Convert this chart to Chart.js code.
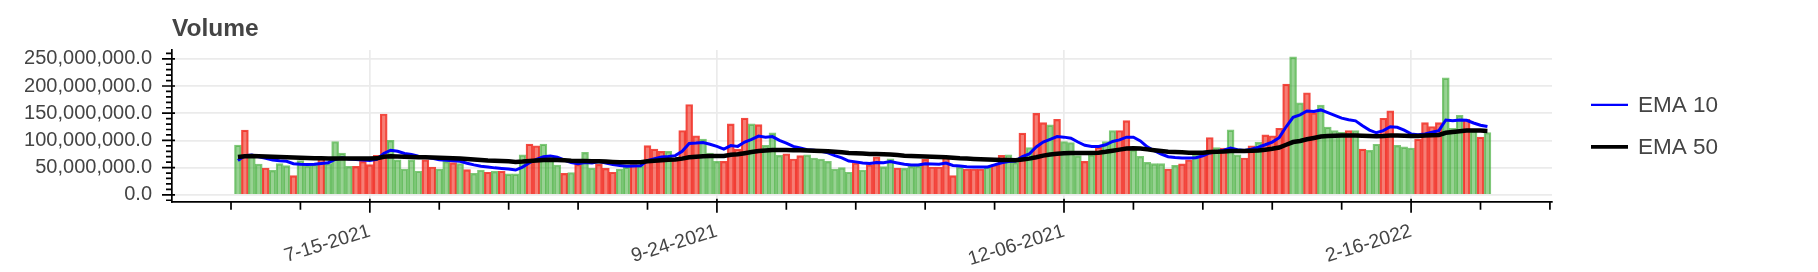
<!DOCTYPE html>
<html>
<head>
<meta charset="utf-8">
<script src="https://cdn.jsdelivr.net/npm/chart.js@4.4.1/dist/chart.umd.min.js"></script>
<style>
  html, body { margin: 0; padding: 0; background: #fff; }
  #wrap { width: 1818px; height: 272px; }
</style>
</head>
<body>
<div id="wrap"><canvas id="graficoVolumen" width="1818" height="272"></canvas></div>
<script>
// daily volume, in millions of shares (one bar per trading day)
const volumeM = [
  91.3, 118.8, 73, 56.6, 49.3, 45, 57.2, 53.6, 35.3, 63,
  53.6, 56, 68.6, 57.5, 98, 76.7, 52.3, 52.3, 61.5, 55.4,
  72.5, 148.6, 99.9, 64.5, 47.5, 64.5, 43.2, 64.5, 51.1, 47.5,
  61.5, 59, 57.5, 46.3, 39.5, 45.5, 41.4, 43, 43.2, 38.5,
  38.5, 73.7, 93.2, 90.1, 93.2, 71.8, 54.8, 39.5, 41, 56,
  78, 49.3, 56, 48.5, 41.4, 47.5, 51, 55.4, 53.6, 90.4,
  84, 79.8, 79.8, 65.8, 118.2, 166, 108.5, 102.4, 76.7, 61.5,
  61.5, 130.4, 84, 141, 130.4, 129, 91, 113.8, 72.5, 75.5,
  65.8, 71.9, 73.7, 67.6, 65.8, 61.5, 47.5, 50, 41.4, 58.4,
  45.5, 55.4, 70, 51.7, 66, 49.3, 48.5, 52.3, 53.6, 65,
  51.1, 51.1, 69.4, 35.3, 51.1, 47.5, 47.5, 47.5, 51.1, 55.4,
  72.5, 73.7, 59.7, 113.3, 87, 149.8, 132.7, 128.4, 138.8, 98,
  96.2, 71.9, 61.5, 73.7, 87.7, 98, 118.2, 118.2, 136.5, 82.8,
  70.6, 59.7, 57.2, 57.2, 47.5, 54.2, 56.7, 64.5, 73.7, 73.7,
  105.4, 87, 85.8, 119.4, 73.7, 67.6, 90.1, 96.3, 110.3, 108.5,
  122.4, 203.5, 253.5, 169.3, 187.6, 151, 165, 124.3, 118.2, 115,
  118.2, 118.2, 84, 81.6, 93, 140.7, 154.5, 91, 88, 86,
  102.3, 132.8, 125.5, 132.8, 215, 122.4, 146, 138.9, 118, 106,
  114.5
];

// 1 = close above open (green), 0 = close below open (red)
const upDay = [
  1, 0, 1, 1, 0, 1, 1, 1, 0, 1,
  1, 1, 0, 1, 1, 1, 1, 0, 0, 0,
  0, 0, 1, 1, 1, 1, 1, 0, 0, 1,
  1, 0, 1, 0, 1, 1, 0, 1, 0, 1,
  1, 1, 0, 0, 1, 1, 1, 0, 1, 0,
  1, 1, 0, 0, 0, 1, 1, 0, 1, 0,
  0, 0, 1, 0, 0, 0, 0, 1, 1, 1,
  0, 0, 0, 0, 1, 0, 1, 1, 1, 0,
  0, 0, 1, 1, 1, 1, 1, 1, 1, 0,
  1, 0, 0, 1, 1, 0, 1, 1, 1, 0,
  0, 0, 0, 0, 1, 0, 0, 0, 1, 0,
  0, 1, 1, 0, 1, 0, 0, 1, 0, 1,
  1, 1, 0, 1, 0, 1, 1, 0, 0, 1,
  1, 1, 1, 1, 0, 1, 0, 0, 1, 0,
  0, 1, 0, 1, 1, 0, 0, 1, 0, 0,
  0, 0, 1, 1, 0, 0, 1, 1, 1, 1,
  0, 1, 0, 1, 1, 0, 0, 1, 1, 1,
  0, 0, 0, 0, 1, 1, 1, 0, 1, 0,
  1
];

const ema10M = [
  63, 72, 73, 70, 67, 64, 62.5, 61.5, 57, 56,
  55.5, 56, 57.5, 59, 65, 68, 66, 65, 64, 63,
  65, 76, 82, 80, 76, 74, 71, 69.5, 67, 64.5,
  63.5, 62.5, 61.5, 58, 55, 52.5, 51, 49.5, 48.5, 47.5,
  45.5, 51, 59, 65, 70, 71.5, 69, 64, 59.5, 57,
  59.5, 58.5, 61, 58.5, 55.5, 54, 52.5, 53, 53.5, 63,
  66.5, 69.5, 70.5, 72, 80, 94.5, 95, 96, 93, 89,
  84, 90.5, 89, 97, 102, 108, 106, 107, 100, 95,
  89, 86, 83, 82, 80, 77, 72, 68, 62, 60.5,
  58.5, 57.5, 59.5, 59, 61, 58.5, 56, 55, 55, 57,
  56.5, 56, 58.5, 54, 53, 51.5, 51, 51, 51, 55,
  59, 61, 62, 70, 75, 88, 97, 102, 107, 106,
  104, 97, 91, 89, 89, 92, 98, 101, 106, 106,
  99, 88, 81, 75, 70, 68.5, 67.5, 67.5, 68, 71.5,
  77, 79, 82, 86, 83, 81.5, 84, 87.5, 92, 97,
  105, 125, 142.5, 147, 154, 153, 156, 151, 146, 141,
  138, 136, 127, 119, 114, 118, 125, 124, 119, 112,
  110.5, 112, 115, 118, 137.5, 136, 137.5, 137, 132, 128,
  125.5
];

const ema50M = [
  69.5, 71, 71.5, 71, 70.5, 70, 69.5, 69, 68.5, 68,
  67.5, 67, 67, 66.5, 66.5, 66.5, 66.5, 66.5, 66.5, 66.5,
  67, 70, 71, 70.5, 70, 69.5, 69, 69, 68.5, 68,
  67.5, 67, 66.5, 66, 65, 64, 63, 62.5, 62, 61.5,
  60.5, 61, 62, 63, 64, 64.5, 64, 63.5, 62.5, 62,
  62, 61.5, 61.5, 61, 60.5, 60, 60, 60, 60, 61.5,
  62.5, 63.5, 64.5, 65, 66.5, 69, 70, 71, 71.5, 71.5,
  71.5, 73.5, 74.5, 76.5, 78.5, 80.5, 81.5, 82.5, 82.5, 82.5,
  82, 82, 81.5, 81, 80.5, 80, 79, 78, 77, 76.5,
  76, 75, 75, 74.5, 74, 73, 72, 71.5, 71, 70.5,
  70, 69.5, 69, 68, 67, 66.5, 66, 65.5, 65, 64.5,
  64, 64, 63.5, 65, 66.5, 69, 72, 74, 75.5, 76.5,
  77, 77, 77, 77, 77.5, 79, 81, 83, 85, 85.5,
  85, 83.5, 82, 80.5, 79, 78.5, 78, 77.5, 77.5, 77.5,
  78.5, 79, 79.5, 80.5, 80.5, 80.5, 81, 81.5, 83, 84.5,
  87, 92, 97, 99, 102, 104.5, 107, 108, 108.5, 109,
  109, 109, 108.5, 108, 107.5, 108, 109, 109, 108.5, 108,
  108, 109, 109.5, 110, 114, 115.5, 117, 118, 118, 118,
  117.5
];

// labelled x ticks: bar index -> date
const dateTickIdx = [20, 70, 120, 170];
const dateTickLabels = ['7-15-2021', '9-24-2021', '12-06-2021', '2-16-2022'];
const volumeTicks = [0, 50e6, 100e6, 150e6, 200e6, 250e6];

const FONT = 'Helvetica, Arial, "Liberation Sans", sans-serif';
let chartObj = null;

const xTickVals = [];
for (let v = 0; v <= 190; v += 10) xTickVals.push(v);

const extras = {
    id: 'extras',
    afterDraw(chart) {
        const { ctx, chartArea: area, scales: { x, y } } = chart;
        ctx.save();
        ctx.strokeStyle = '#000';
        ctx.lineWidth = 1.7;
        ctx.beginPath();
        xTickVals.forEach(v => {
            const px = x.getPixelForValue(v);
            const major = dateTickIdx.includes(v);
            ctx.moveTo(px, area.bottom - (major ? 3 : 0));
            ctx.lineTo(px, area.bottom + (major ? 11 : 8));
        });
        for (let v = -10e6; v <= 260e6; v += 10e6) {
            const py = y.getPixelForValue(v);
            const major = v % 50e6 === 0;
            ctx.moveTo(area.left - (major ? 10 : 6), py);
            ctx.lineTo(area.left + (major ? 3 : 0), py);
        }
        ctx.stroke();

        // title
        ctx.fillStyle = '#444';
        ctx.font = 'bold 24.5px ' + FONT;
        ctx.textBaseline = 'alphabetic';
        ctx.textAlign = 'left';
        ctx.fillText('Volume', area.left, 36);

        // legend for the two EMA lines, in dataset order
        const lines = chart.data.datasets.filter(d => d.type === 'line');
        const midY = (area.top + area.bottom) / 2;
        ctx.font = '22.5px ' + FONT;
        ctx.textBaseline = 'middle';
        lines.forEach((d, i) => {
            const ly = midY + (i - (lines.length - 1) / 2) * 42;
            const lx = area.right + 39;
            ctx.strokeStyle = d.borderColor;
            ctx.lineWidth = d.borderWidth - 0.8;
            ctx.beginPath();
            ctx.moveTo(lx, ly);
            ctx.lineTo(lx + 37, ly);
            ctx.stroke();
            ctx.fillText(d.label, lx + 47, ly + 1);
        });
        ctx.restore();
    }
};

function renderChart() {
    const ctx = document.getElementById('graficoVolumen').getContext('2d');
    if (chartObj) chartObj.destroy();

    const bars = volumeM.map((v, i) => ({ x: i + 1, y: v * 1e6 }));
    const fillCol = upDay.map(u => u ? 'rgba(50,165,40,0.5)' : 'rgba(240,40,25,0.6)');
    const lineCol = upDay.map(u => u ? 'rgba(60,170,50,0.65)' : 'rgba(240,30,20,0.8)');

    Chart.defaults.font.family = FONT;
    Chart.defaults.color = '#444';

    chartObj = new Chart(ctx, {
        type: 'bar',
        data: {
            datasets: [
                {
                    type: 'line', label: 'EMA 10', order: 2,
                    data: ema10M.map((v, i) => ({ x: i + 1, y: v * 1e6 })),
                    borderColor: '#0000ff', borderWidth: 3, pointRadius: 0, tension: 0
                },
                {
                    type: 'line', label: 'EMA 50', order: 1,
                    data: ema50M.map((v, i) => ({ x: i + 1, y: v * 1e6 })),
                    borderColor: '#000', borderWidth: 4.5, pointRadius: 0, tension: 0
                },
                {
                    type: 'bar', label: 'Volume', order: 3,
                    data: bars,
                    backgroundColor: fillCol, borderColor: lineCol, borderWidth: 1.5,
                    categoryPercentage: 1, barPercentage: 1
                }
            ]
        },
        options: {
            responsive: false,
            animation: false,
            devicePixelRatio: 1,
            events: [],
            layout: { padding: { left: 0, right: 266, top: 50, bottom: 0 } },
            plugins: { legend: { display: false }, tooltip: { enabled: false } },
            scales: {
                x: {
                    type: 'linear', min: -8.5, max: 190.3, offset: false,
                    afterBuildTicks: axis => { axis.ticks = xTickVals.map(v => ({ value: v })); },
                    afterFit: axis => { axis.height = 70.3; },
                    grid: {
                        offset: false, lineWidth: 1.7, tickLength: 11, tickColor: 'transparent',
                        color: c => (c.tick && dateTickIdx.includes(c.tick.value)) ? '#ebebeb' : 'transparent'
                    },
                    border: { display: true, color: '#000', width: 1.7 },
                    ticks: {
                        autoSkip: false, minRotation: 17, maxRotation: 17, padding: 7,
                        font: { size: 19.5 }, color: '#444',
                        callback: v => {
                            const k = dateTickIdx.indexOf(v);
                            return k >= 0 ? dateTickLabels[k] : '';
                        }
                    }
                },
                y: {
                    min: -12.7e6, max: 266.2e6,
                    afterBuildTicks: axis => { axis.ticks = volumeTicks.map(v => ({ value: v })); },
                    afterFit: axis => { axis.width = 172; },
                    grid: { lineWidth: 1.7, color: '#ebebeb', tickLength: 10, tickColor: 'transparent' },
                    border: { display: true, color: '#000', width: 1.7 },
                    ticks: {
                        padding: 10, font: { size: 20 }, color: '#444',
                        callback: v => Number(v).toLocaleString('en-US') + '.0'
                    }
                }
            }
        },
        plugins: [extras]
    });
}

renderChart();
</script>
</body>
</html>
